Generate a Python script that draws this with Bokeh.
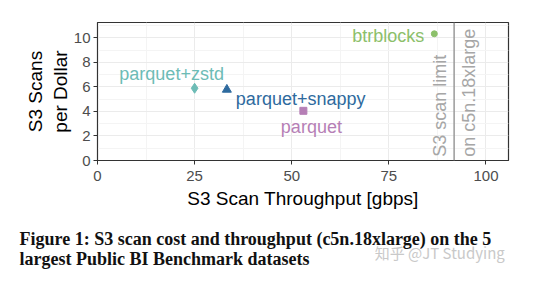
import math
from bokeh.plotting import figure
from bokeh.models import Range1d, FixedTicker, Span, Label, Title, LinearAxis
from bokeh.core.properties import value
from bokeh.embed import file_html
from bokeh.resources import INLINE

# ---- data ----
formats = ["btrblocks", "parquet+zstd", "parquet+snappy", "parquet"]
throughput_gbps = [86.7, 25.0, 33.3, 53.0]
scans_per_dollar = [10.33, 5.89, 5.78, 4.05]
colors = ["#8cc06a", "#6dbcb6", "#2e6a9e", "#b67fb6"]
markers = ["circle", "diamond", "triangle", "square"]
marker_sizes = [6, 10, 9, 7]
s3_limit_gbps = 91.8
x_ticks = [0, 25, 50, 75, 100]
y_ticks = [0, 2, 4, 6, 8, 10]
caption_lines = ["Figure 1: S3 scan cost and throughput (c5n.18xlarge) on the 5",
                 "largest Public BI Benchmark datasets"]
watermark = "知乎 @JT Studying"

FONT = "Liberation Sans"

p = figure(width=540, height=286, output_backend="svg", toolbar_location=None,
           x_range=Range1d(0, 105.8), y_range=Range1d(0, 11.25),
           min_border_left=97, min_border_right=32, min_border_top=22, min_border_bottom=126)

p.outline_line_color = "#333333"
p.outline_line_width = 1.2
for ax in (p.xaxis[0], p.yaxis[0]):
    ax.axis_line_color = "#333333"
    ax.major_tick_line_color = "#333333"
    ax.major_tick_out = 4
    ax.major_tick_in = 0
    ax.minor_tick_line_color = None
    ax.major_label_text_font = FONT
    ax.major_label_text_font_size = "15px"
    ax.major_label_text_color = "#4d4d4d"
    ax.axis_label_text_font = FONT
    ax.axis_label_text_font_size = "19px"
    ax.axis_label_text_font_style = "normal"
    ax.axis_label_text_color = "#000000"

p.xaxis.ticker = FixedTicker(ticks=x_ticks, minor_ticks=[12.5, 37.5, 62.5, 87.5])
p.yaxis.ticker = FixedTicker(ticks=y_ticks, minor_ticks=[1, 3, 5, 7, 9, 11])
p.xaxis.axis_label = "S3 Scan Throughput [gbps]"
p.yaxis.axis_label = "S3 Scans\nper Dollar"
p.xaxis.major_label_standoff = 6
p.yaxis.major_label_standoff = 3
p.xaxis.axis_label_standoff = 4
p.yaxis.axis_label_standoff = 0

p.grid.grid_line_color = "#ebebeb"
p.grid.grid_line_width = 1
p.grid.minor_grid_line_color = "#f4f4f4"
p.grid.minor_grid_line_width = 1

p.add_layout(Span(location=s3_limit_gbps, dimension="height", line_color="#9a9a9a", line_width=1.5))

for name, x, y, c, m, s in zip(formats, throughput_gbps, scans_per_dollar, colors, markers, marker_sizes):
    p.scatter([x], [y], marker=m, size=s, fill_color=c, line_color=c)

label_style = {
    "btrblocks": dict(text_align="right", x_offset=-10, y_offset=2),
    "parquet+zstd": dict(text_align="center", x_offset=-23, y_offset=-14),
    "parquet+snappy": dict(text_align="left", x_offset=9, y_offset=9),
    "parquet": dict(text_align="center", x_offset=8, y_offset=16),
}
for name, x, y, c in zip(formats, throughput_gbps, scans_per_dollar, colors):
    st = label_style[name]
    p.text([x], [y], text=[name], text_color=c, text_font=value(FONT), text_font_size="18px",
           text_baseline="middle", **st)

for txt, off in (("S3 scan limit", -14), ("on c5n.18xlarge", 15)):
    p.add_layout(Label(x=s3_limit_gbps, y=0.3, text=txt, angle=math.pi / 2, x_offset=off,
                       text_align="left", text_baseline="middle", text_color="#a6a6a6",
                       text_font=FONT, text_font_size="18px"))

# caption below the chart, as a title panel
p.add_layout(Title(text="\n".join(caption_lines), align="left", offset=-78, standoff=30,
                   text_font="Liberation Serif", text_font_style="bold", text_font_size="18px",
                   text_color="#111111"), "below")

# watermark: a bare extra axis whose only tick label is pulled up beside the caption
wm_pos = 88.1
wm_axis = LinearAxis(ticker=FixedTicker(ticks=[wm_pos]), major_label_overrides={wm_pos: watermark},
                     axis_line_color=None, major_tick_line_color=None, minor_tick_line_color=None,
                     major_tick_out=0, major_tick_in=0, major_label_standoff=-42,
                     major_label_text_font="Noto Sans CJK SC", major_label_text_font_size="15px",
                     major_label_text_color="#c9c9c9")
p.add_layout(wm_axis, "below")

open("out.html", "w").write(file_html(p, INLINE))
